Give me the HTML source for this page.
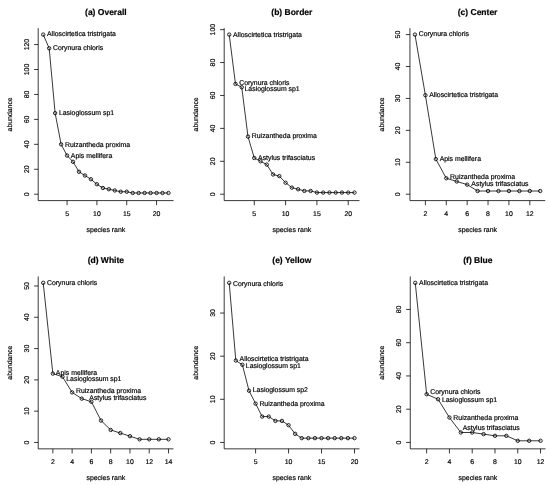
<!DOCTYPE html>
<html><head><meta charset="utf-8"><title>Rank abundance</title>
<style>html,body{margin:0;padding:0;background:#fff}svg{display:block}text{text-rendering:geometricPrecision;stroke:#000;stroke-width:0.18px;font-family:"Liberation Sans",sans-serif;fill:#000}</style></head>
<body>
<svg width="550" height="485" viewBox="0 0 550 485">
<rect width="550" height="485" fill="#fff"/>
<g>
<text x="105.85" y="14.9" font-size="8.5" font-weight="bold" text-anchor="middle">(a) Overall</text>
<path d="M38.2 28.2V200.6H173.5" fill="none" stroke="#000" stroke-width="0.78"/>
<path d="M67.07 200.6v4.6M96.9 200.6v4.6M126.73 200.6v4.6M156.56 200.6v4.6M38.2 194.21h-4.1M38.2 169.27h-4.1M38.2 144.33h-4.1M38.2 119.39h-4.1M38.2 94.45h-4.1M38.2 69.5h-4.1M38.2 44.56h-4.1" fill="none" stroke="#000" stroke-width="0.78"/>
<text x="67.07" y="215.8" font-size="6.9" text-anchor="middle">5</text>
<text x="96.9" y="215.8" font-size="6.9" text-anchor="middle">10</text>
<text x="126.73" y="215.8" font-size="6.9" text-anchor="middle">15</text>
<text x="156.56" y="215.8" font-size="6.9" text-anchor="middle">20</text>
<text transform="translate(28.65 194.21) rotate(-90)" font-size="6.9" text-anchor="middle">0</text>
<text transform="translate(28.65 169.27) rotate(-90)" font-size="6.9" text-anchor="middle">20</text>
<text transform="translate(28.65 144.33) rotate(-90)" font-size="6.9" text-anchor="middle">40</text>
<text transform="translate(28.65 119.39) rotate(-90)" font-size="6.9" text-anchor="middle">60</text>
<text transform="translate(28.65 94.45) rotate(-90)" font-size="6.9" text-anchor="middle">80</text>
<text transform="translate(28.65 69.5) rotate(-90)" font-size="6.9" text-anchor="middle">100</text>
<text transform="translate(28.65 44.56) rotate(-90)" font-size="6.9" text-anchor="middle">120</text>
<text x="105.85" y="231.7" font-size="6.9" text-anchor="middle">species rank</text>
<text transform="translate(11.9 114.4) rotate(-90)" font-size="6.9" text-anchor="middle">abundance</text>
<polyline points="43.21,34.59 49.18,48.3 55.14,113.15 61.11,144.33 67.07,155.55 73.04,161.79 79,171.77 84.97,175.51 90.94,179.25 96.9,184.24 102.87,187.98 108.83,189.23 114.8,190.47 120.76,191.72 126.73,191.72 132.7,192.97 138.66,192.97 144.63,192.97 150.59,192.97 156.56,192.97 162.52,192.97 168.49,192.97" fill="none" stroke="#000" stroke-width="0.78" stroke-linejoin="round"/>
<circle cx="43.21" cy="34.59" r="1.7" fill="none" stroke="#000" stroke-width="0.85"/>
<circle cx="49.18" cy="48.3" r="1.7" fill="none" stroke="#000" stroke-width="0.85"/>
<circle cx="55.14" cy="113.15" r="1.7" fill="none" stroke="#000" stroke-width="0.85"/>
<circle cx="61.11" cy="144.33" r="1.7" fill="none" stroke="#000" stroke-width="0.85"/>
<circle cx="67.07" cy="155.55" r="1.7" fill="none" stroke="#000" stroke-width="0.85"/>
<circle cx="73.04" cy="161.79" r="1.7" fill="none" stroke="#000" stroke-width="0.85"/>
<circle cx="79" cy="171.77" r="1.7" fill="none" stroke="#000" stroke-width="0.85"/>
<circle cx="84.97" cy="175.51" r="1.7" fill="none" stroke="#000" stroke-width="0.85"/>
<circle cx="90.94" cy="179.25" r="1.7" fill="none" stroke="#000" stroke-width="0.85"/>
<circle cx="96.9" cy="184.24" r="1.7" fill="none" stroke="#000" stroke-width="0.85"/>
<circle cx="102.87" cy="187.98" r="1.7" fill="none" stroke="#000" stroke-width="0.85"/>
<circle cx="108.83" cy="189.23" r="1.7" fill="none" stroke="#000" stroke-width="0.85"/>
<circle cx="114.8" cy="190.47" r="1.7" fill="none" stroke="#000" stroke-width="0.85"/>
<circle cx="120.76" cy="191.72" r="1.7" fill="none" stroke="#000" stroke-width="0.85"/>
<circle cx="126.73" cy="191.72" r="1.7" fill="none" stroke="#000" stroke-width="0.85"/>
<circle cx="132.7" cy="192.97" r="1.7" fill="none" stroke="#000" stroke-width="0.85"/>
<circle cx="138.66" cy="192.97" r="1.7" fill="none" stroke="#000" stroke-width="0.85"/>
<circle cx="144.63" cy="192.97" r="1.7" fill="none" stroke="#000" stroke-width="0.85"/>
<circle cx="150.59" cy="192.97" r="1.7" fill="none" stroke="#000" stroke-width="0.85"/>
<circle cx="156.56" cy="192.97" r="1.7" fill="none" stroke="#000" stroke-width="0.85"/>
<circle cx="162.52" cy="192.97" r="1.7" fill="none" stroke="#000" stroke-width="0.85"/>
<circle cx="168.49" cy="192.97" r="1.7" fill="none" stroke="#000" stroke-width="0.85"/>
<text x="47.01" y="36.39" font-size="6.9">Alloscirtetica tristrigata</text>
<text x="52.98" y="50.1" font-size="6.9">Corynura chloris</text>
<text x="58.94" y="115.35" font-size="6.9">Lasioglossum sp1</text>
<text x="64.91" y="146.53" font-size="6.9">Ruizantheda proxima</text>
<text x="70.87" y="157.75" font-size="6.9">Apis mellifera</text>
</g>
<g>
<text x="291.85" y="14.9" font-size="8.5" font-weight="bold" text-anchor="middle">(b) Border</text>
<path d="M224.2 28.2V200.6H359.5" fill="none" stroke="#000" stroke-width="0.78"/>
<path d="M254.27 200.6v4.6M285.59 200.6v4.6M316.91 200.6v4.6M348.23 200.6v4.6M224.2 194.21h-4.1M224.2 161.3h-4.1M224.2 128.39h-4.1M224.2 95.47h-4.1M224.2 62.56h-4.1M224.2 29.65h-4.1" fill="none" stroke="#000" stroke-width="0.78"/>
<text x="254.27" y="215.8" font-size="6.9" text-anchor="middle">5</text>
<text x="285.59" y="215.8" font-size="6.9" text-anchor="middle">10</text>
<text x="316.91" y="215.8" font-size="6.9" text-anchor="middle">15</text>
<text x="348.23" y="215.8" font-size="6.9" text-anchor="middle">20</text>
<text transform="translate(214.65 194.21) rotate(-90)" font-size="6.9" text-anchor="middle">0</text>
<text transform="translate(214.65 161.3) rotate(-90)" font-size="6.9" text-anchor="middle">20</text>
<text transform="translate(214.65 128.39) rotate(-90)" font-size="6.9" text-anchor="middle">40</text>
<text transform="translate(214.65 95.47) rotate(-90)" font-size="6.9" text-anchor="middle">60</text>
<text transform="translate(214.65 62.56) rotate(-90)" font-size="6.9" text-anchor="middle">80</text>
<text transform="translate(214.65 29.65) rotate(-90)" font-size="6.9" text-anchor="middle">100</text>
<text x="291.85" y="231.7" font-size="6.9" text-anchor="middle">species rank</text>
<text transform="translate(197.9 114.4) rotate(-90)" font-size="6.9" text-anchor="middle">abundance</text>
<polyline points="229.21,34.59 235.47,83.96 241.74,87.25 248,136.62 254.27,158.01 260.53,161.3 266.79,164.59 273.06,174.47 279.32,176.11 285.59,182.7 291.85,187.63 298.11,189.28 304.38,190.92 310.64,190.92 316.91,192.57 323.17,192.57 329.43,192.57 335.7,192.57 341.96,192.57 348.23,192.57 354.49,192.57" fill="none" stroke="#000" stroke-width="0.78" stroke-linejoin="round"/>
<circle cx="229.21" cy="34.59" r="1.7" fill="none" stroke="#000" stroke-width="0.85"/>
<circle cx="235.47" cy="83.96" r="1.7" fill="none" stroke="#000" stroke-width="0.85"/>
<circle cx="241.74" cy="87.25" r="1.7" fill="none" stroke="#000" stroke-width="0.85"/>
<circle cx="248" cy="136.62" r="1.7" fill="none" stroke="#000" stroke-width="0.85"/>
<circle cx="254.27" cy="158.01" r="1.7" fill="none" stroke="#000" stroke-width="0.85"/>
<circle cx="260.53" cy="161.3" r="1.7" fill="none" stroke="#000" stroke-width="0.85"/>
<circle cx="266.79" cy="164.59" r="1.7" fill="none" stroke="#000" stroke-width="0.85"/>
<circle cx="273.06" cy="174.47" r="1.7" fill="none" stroke="#000" stroke-width="0.85"/>
<circle cx="279.32" cy="176.11" r="1.7" fill="none" stroke="#000" stroke-width="0.85"/>
<circle cx="285.59" cy="182.7" r="1.7" fill="none" stroke="#000" stroke-width="0.85"/>
<circle cx="291.85" cy="187.63" r="1.7" fill="none" stroke="#000" stroke-width="0.85"/>
<circle cx="298.11" cy="189.28" r="1.7" fill="none" stroke="#000" stroke-width="0.85"/>
<circle cx="304.38" cy="190.92" r="1.7" fill="none" stroke="#000" stroke-width="0.85"/>
<circle cx="310.64" cy="190.92" r="1.7" fill="none" stroke="#000" stroke-width="0.85"/>
<circle cx="316.91" cy="192.57" r="1.7" fill="none" stroke="#000" stroke-width="0.85"/>
<circle cx="323.17" cy="192.57" r="1.7" fill="none" stroke="#000" stroke-width="0.85"/>
<circle cx="329.43" cy="192.57" r="1.7" fill="none" stroke="#000" stroke-width="0.85"/>
<circle cx="335.7" cy="192.57" r="1.7" fill="none" stroke="#000" stroke-width="0.85"/>
<circle cx="341.96" cy="192.57" r="1.7" fill="none" stroke="#000" stroke-width="0.85"/>
<circle cx="348.23" cy="192.57" r="1.7" fill="none" stroke="#000" stroke-width="0.85"/>
<circle cx="354.49" cy="192.57" r="1.7" fill="none" stroke="#000" stroke-width="0.85"/>
<text x="233.01" y="36.59" font-size="6.9">Alloscirtetica tristrigata</text>
<text x="239.28" y="84.86" font-size="6.9">Corynura chloris</text>
<text x="244.54" y="91.25" font-size="6.9">Lasioglossum sp1</text>
<text x="251.8" y="138.22" font-size="6.9">Ruizantheda proxima</text>
<text x="258.07" y="160.21" font-size="6.9">Astylus trifasciatus</text>
</g>
<g>
<text x="477.6" y="14.9" font-size="8.5" font-weight="bold" text-anchor="middle">(c) Center</text>
<path d="M409.95 28.2V200.6H545.25" fill="none" stroke="#000" stroke-width="0.78"/>
<path d="M425.4 200.6v4.6M446.28 200.6v4.6M467.16 200.6v4.6M488.04 200.6v4.6M508.92 200.6v4.6M529.8 200.6v4.6M409.95 194.21h-4.1M409.95 162.29h-4.1M409.95 130.36h-4.1M409.95 98.44h-4.1M409.95 66.51h-4.1M409.95 34.59h-4.1" fill="none" stroke="#000" stroke-width="0.78"/>
<text x="425.4" y="215.8" font-size="6.9" text-anchor="middle">2</text>
<text x="446.28" y="215.8" font-size="6.9" text-anchor="middle">4</text>
<text x="467.16" y="215.8" font-size="6.9" text-anchor="middle">6</text>
<text x="488.04" y="215.8" font-size="6.9" text-anchor="middle">8</text>
<text x="508.92" y="215.8" font-size="6.9" text-anchor="middle">10</text>
<text x="529.8" y="215.8" font-size="6.9" text-anchor="middle">12</text>
<text transform="translate(400.4 194.21) rotate(-90)" font-size="6.9" text-anchor="middle">0</text>
<text transform="translate(400.4 162.29) rotate(-90)" font-size="6.9" text-anchor="middle">10</text>
<text transform="translate(400.4 130.36) rotate(-90)" font-size="6.9" text-anchor="middle">20</text>
<text transform="translate(400.4 98.44) rotate(-90)" font-size="6.9" text-anchor="middle">30</text>
<text transform="translate(400.4 66.51) rotate(-90)" font-size="6.9" text-anchor="middle">40</text>
<text transform="translate(400.4 34.59) rotate(-90)" font-size="6.9" text-anchor="middle">50</text>
<text x="477.6" y="231.7" font-size="6.9" text-anchor="middle">species rank</text>
<text transform="translate(383.65 114.4) rotate(-90)" font-size="6.9" text-anchor="middle">abundance</text>
<polyline points="414.96,34.59 425.4,95.24 435.84,159.1 446.28,178.25 456.72,181.44 467.16,184.64 477.6,191.02 488.04,191.02 498.48,191.02 508.92,191.02 519.36,191.02 529.8,191.02 540.24,191.02" fill="none" stroke="#000" stroke-width="0.78" stroke-linejoin="round"/>
<circle cx="414.96" cy="34.59" r="1.7" fill="none" stroke="#000" stroke-width="0.85"/>
<circle cx="425.4" cy="95.24" r="1.7" fill="none" stroke="#000" stroke-width="0.85"/>
<circle cx="435.84" cy="159.1" r="1.7" fill="none" stroke="#000" stroke-width="0.85"/>
<circle cx="446.28" cy="178.25" r="1.7" fill="none" stroke="#000" stroke-width="0.85"/>
<circle cx="456.72" cy="181.44" r="1.7" fill="none" stroke="#000" stroke-width="0.85"/>
<circle cx="467.16" cy="184.64" r="1.7" fill="none" stroke="#000" stroke-width="0.85"/>
<circle cx="477.6" cy="191.02" r="1.7" fill="none" stroke="#000" stroke-width="0.85"/>
<circle cx="488.04" cy="191.02" r="1.7" fill="none" stroke="#000" stroke-width="0.85"/>
<circle cx="498.48" cy="191.02" r="1.7" fill="none" stroke="#000" stroke-width="0.85"/>
<circle cx="508.92" cy="191.02" r="1.7" fill="none" stroke="#000" stroke-width="0.85"/>
<circle cx="519.36" cy="191.02" r="1.7" fill="none" stroke="#000" stroke-width="0.85"/>
<circle cx="529.8" cy="191.02" r="1.7" fill="none" stroke="#000" stroke-width="0.85"/>
<circle cx="540.24" cy="191.02" r="1.7" fill="none" stroke="#000" stroke-width="0.85"/>
<text x="418.76" y="36.14" font-size="6.9">Corynura chloris</text>
<text x="429.2" y="97.44" font-size="6.9">Alloscirtetica tristrigata</text>
<text x="439.64" y="161.3" font-size="6.9">Apis mellifera</text>
<text x="450.08" y="178.55" font-size="6.9">Ruizantheda proxima</text>
<text x="471.36" y="186.19" font-size="6.9">Astylus trifasciatus</text>
</g>
<g>
<text x="105.85" y="262.65" font-size="8.5" font-weight="bold" text-anchor="middle">(d) White</text>
<path d="M38.2 276.45V448.85H173.5" fill="none" stroke="#000" stroke-width="0.78"/>
<path d="M52.85 448.85v4.6M72.12 448.85v4.6M91.39 448.85v4.6M110.67 448.85v4.6M129.94 448.85v4.6M149.22 448.85v4.6M168.49 448.85v4.6M38.2 442.46h-4.1M38.2 411.16h-4.1M38.2 379.86h-4.1M38.2 348.57h-4.1M38.2 317.27h-4.1M38.2 285.97h-4.1" fill="none" stroke="#000" stroke-width="0.78"/>
<text x="52.85" y="464.05" font-size="6.9" text-anchor="middle">2</text>
<text x="72.12" y="464.05" font-size="6.9" text-anchor="middle">4</text>
<text x="91.39" y="464.05" font-size="6.9" text-anchor="middle">6</text>
<text x="110.67" y="464.05" font-size="6.9" text-anchor="middle">8</text>
<text x="129.94" y="464.05" font-size="6.9" text-anchor="middle">10</text>
<text x="149.22" y="464.05" font-size="6.9" text-anchor="middle">12</text>
<text x="168.49" y="464.05" font-size="6.9" text-anchor="middle">14</text>
<text transform="translate(28.65 442.46) rotate(-90)" font-size="6.9" text-anchor="middle">0</text>
<text transform="translate(28.65 411.16) rotate(-90)" font-size="6.9" text-anchor="middle">10</text>
<text transform="translate(28.65 379.86) rotate(-90)" font-size="6.9" text-anchor="middle">20</text>
<text transform="translate(28.65 348.57) rotate(-90)" font-size="6.9" text-anchor="middle">30</text>
<text transform="translate(28.65 317.27) rotate(-90)" font-size="6.9" text-anchor="middle">40</text>
<text transform="translate(28.65 285.97) rotate(-90)" font-size="6.9" text-anchor="middle">50</text>
<text x="105.85" y="479.95" font-size="6.9" text-anchor="middle">species rank</text>
<text transform="translate(11.9 362.65) rotate(-90)" font-size="6.9" text-anchor="middle">abundance</text>
<polyline points="43.21,282.84 52.85,373.6 62.48,376.73 72.12,392.38 81.76,398.64 91.39,401.77 101.03,420.55 110.67,429.94 120.31,433.07 129.94,436.2 139.58,439.33 149.22,439.33 158.85,439.33 168.49,439.33" fill="none" stroke="#000" stroke-width="0.78" stroke-linejoin="round"/>
<circle cx="43.21" cy="282.84" r="1.7" fill="none" stroke="#000" stroke-width="0.85"/>
<circle cx="52.85" cy="373.6" r="1.7" fill="none" stroke="#000" stroke-width="0.85"/>
<circle cx="62.48" cy="376.73" r="1.7" fill="none" stroke="#000" stroke-width="0.85"/>
<circle cx="72.12" cy="392.38" r="1.7" fill="none" stroke="#000" stroke-width="0.85"/>
<circle cx="81.76" cy="398.64" r="1.7" fill="none" stroke="#000" stroke-width="0.85"/>
<circle cx="91.39" cy="401.77" r="1.7" fill="none" stroke="#000" stroke-width="0.85"/>
<circle cx="101.03" cy="420.55" r="1.7" fill="none" stroke="#000" stroke-width="0.85"/>
<circle cx="110.67" cy="429.94" r="1.7" fill="none" stroke="#000" stroke-width="0.85"/>
<circle cx="120.31" cy="433.07" r="1.7" fill="none" stroke="#000" stroke-width="0.85"/>
<circle cx="129.94" cy="436.2" r="1.7" fill="none" stroke="#000" stroke-width="0.85"/>
<circle cx="139.58" cy="439.33" r="1.7" fill="none" stroke="#000" stroke-width="0.85"/>
<circle cx="149.22" cy="439.33" r="1.7" fill="none" stroke="#000" stroke-width="0.85"/>
<circle cx="158.85" cy="439.33" r="1.7" fill="none" stroke="#000" stroke-width="0.85"/>
<circle cx="168.49" cy="439.33" r="1.7" fill="none" stroke="#000" stroke-width="0.85"/>
<text x="47.01" y="284.68" font-size="6.9">Corynura chloris</text>
<text x="55.85" y="374.5" font-size="6.9">Apis mellifera</text>
<text x="66.28" y="380.93" font-size="6.9">Lasioglossum sp1</text>
<text x="75.92" y="393.08" font-size="6.9">Ruizantheda proxima</text>
<text x="89.34" y="400.27" font-size="6.9">Astylus trifasciatus</text>
</g>
<g>
<text x="291.85" y="262.65" font-size="8.5" font-weight="bold" text-anchor="middle">(e) Yellow</text>
<path d="M224.2 276.45V448.85H359.5" fill="none" stroke="#000" stroke-width="0.78"/>
<path d="M255.59 448.85v4.6M288.55 448.85v4.6M321.52 448.85v4.6M354.49 448.85v4.6M224.2 442.46h-4.1M224.2 399.32h-4.1M224.2 356.18h-4.1M224.2 313.04h-4.1" fill="none" stroke="#000" stroke-width="0.78"/>
<text x="255.59" y="464.05" font-size="6.9" text-anchor="middle">5</text>
<text x="288.55" y="464.05" font-size="6.9" text-anchor="middle">10</text>
<text x="321.52" y="464.05" font-size="6.9" text-anchor="middle">15</text>
<text x="354.49" y="464.05" font-size="6.9" text-anchor="middle">20</text>
<text transform="translate(214.65 442.46) rotate(-90)" font-size="6.9" text-anchor="middle">0</text>
<text transform="translate(214.65 399.32) rotate(-90)" font-size="6.9" text-anchor="middle">10</text>
<text transform="translate(214.65 356.18) rotate(-90)" font-size="6.9" text-anchor="middle">20</text>
<text transform="translate(214.65 313.04) rotate(-90)" font-size="6.9" text-anchor="middle">30</text>
<text x="291.85" y="479.95" font-size="6.9" text-anchor="middle">species rank</text>
<text transform="translate(197.9 362.65) rotate(-90)" font-size="6.9" text-anchor="middle">abundance</text>
<polyline points="229.21,282.84 235.8,360.49 242.4,364.81 248.99,390.69 255.59,403.64 262.18,416.58 268.77,416.58 275.37,420.89 281.96,420.89 288.55,425.21 295.15,433.84 301.74,438.15 308.33,438.15 314.93,438.15 321.52,438.15 328.11,438.15 334.71,438.15 341.3,438.15 347.9,438.15 354.49,438.15" fill="none" stroke="#000" stroke-width="0.78" stroke-linejoin="round"/>
<circle cx="229.21" cy="282.84" r="1.7" fill="none" stroke="#000" stroke-width="0.85"/>
<circle cx="235.8" cy="360.49" r="1.7" fill="none" stroke="#000" stroke-width="0.85"/>
<circle cx="242.4" cy="364.81" r="1.7" fill="none" stroke="#000" stroke-width="0.85"/>
<circle cx="248.99" cy="390.69" r="1.7" fill="none" stroke="#000" stroke-width="0.85"/>
<circle cx="255.59" cy="403.64" r="1.7" fill="none" stroke="#000" stroke-width="0.85"/>
<circle cx="262.18" cy="416.58" r="1.7" fill="none" stroke="#000" stroke-width="0.85"/>
<circle cx="268.77" cy="416.58" r="1.7" fill="none" stroke="#000" stroke-width="0.85"/>
<circle cx="275.37" cy="420.89" r="1.7" fill="none" stroke="#000" stroke-width="0.85"/>
<circle cx="281.96" cy="420.89" r="1.7" fill="none" stroke="#000" stroke-width="0.85"/>
<circle cx="288.55" cy="425.21" r="1.7" fill="none" stroke="#000" stroke-width="0.85"/>
<circle cx="295.15" cy="433.84" r="1.7" fill="none" stroke="#000" stroke-width="0.85"/>
<circle cx="301.74" cy="438.15" r="1.7" fill="none" stroke="#000" stroke-width="0.85"/>
<circle cx="308.33" cy="438.15" r="1.7" fill="none" stroke="#000" stroke-width="0.85"/>
<circle cx="314.93" cy="438.15" r="1.7" fill="none" stroke="#000" stroke-width="0.85"/>
<circle cx="321.52" cy="438.15" r="1.7" fill="none" stroke="#000" stroke-width="0.85"/>
<circle cx="328.11" cy="438.15" r="1.7" fill="none" stroke="#000" stroke-width="0.85"/>
<circle cx="334.71" cy="438.15" r="1.7" fill="none" stroke="#000" stroke-width="0.85"/>
<circle cx="341.3" cy="438.15" r="1.7" fill="none" stroke="#000" stroke-width="0.85"/>
<circle cx="347.9" cy="438.15" r="1.7" fill="none" stroke="#000" stroke-width="0.85"/>
<circle cx="354.49" cy="438.15" r="1.7" fill="none" stroke="#000" stroke-width="0.85"/>
<text x="233.01" y="285.74" font-size="6.9">Corynura chloris</text>
<text x="239.6" y="361.19" font-size="6.9">Alloscirtetica tristrigata</text>
<text x="245.8" y="368.11" font-size="6.9">Lasioglossum sp1</text>
<text x="252.79" y="392.29" font-size="6.9">Lasioglossum sp2</text>
<text x="259.39" y="405.64" font-size="6.9">Ruizantheda proxima</text>
</g>
<g>
<text x="477.9" y="262.65" font-size="8.5" font-weight="bold" text-anchor="middle">(f) Blue</text>
<path d="M410.25 276.45V448.85H545.55" fill="none" stroke="#000" stroke-width="0.78"/>
<path d="M426.65 448.85v4.6M449.43 448.85v4.6M472.21 448.85v4.6M494.98 448.85v4.6M517.76 448.85v4.6M540.54 448.85v4.6M410.25 442.46h-4.1M410.25 409.21h-4.1M410.25 375.95h-4.1M410.25 342.7h-4.1M410.25 309.44h-4.1" fill="none" stroke="#000" stroke-width="0.78"/>
<text x="426.65" y="464.05" font-size="6.9" text-anchor="middle">2</text>
<text x="449.43" y="464.05" font-size="6.9" text-anchor="middle">4</text>
<text x="472.21" y="464.05" font-size="6.9" text-anchor="middle">6</text>
<text x="494.98" y="464.05" font-size="6.9" text-anchor="middle">8</text>
<text x="517.76" y="464.05" font-size="6.9" text-anchor="middle">10</text>
<text x="540.54" y="464.05" font-size="6.9" text-anchor="middle">12</text>
<text transform="translate(400.7 442.46) rotate(-90)" font-size="6.9" text-anchor="middle">0</text>
<text transform="translate(400.7 409.21) rotate(-90)" font-size="6.9" text-anchor="middle">20</text>
<text transform="translate(400.7 375.95) rotate(-90)" font-size="6.9" text-anchor="middle">40</text>
<text transform="translate(400.7 342.7) rotate(-90)" font-size="6.9" text-anchor="middle">60</text>
<text transform="translate(400.7 309.44) rotate(-90)" font-size="6.9" text-anchor="middle">80</text>
<text x="477.9" y="479.95" font-size="6.9" text-anchor="middle">species rank</text>
<text transform="translate(383.95 362.65) rotate(-90)" font-size="6.9" text-anchor="middle">abundance</text>
<polyline points="415.26,282.84 426.65,394.24 438.04,399.23 449.43,417.52 460.82,432.49 472.21,432.49 483.59,434.15 494.98,435.81 506.37,435.81 517.76,440.8 529.15,440.8 540.54,440.8" fill="none" stroke="#000" stroke-width="0.78" stroke-linejoin="round"/>
<circle cx="415.26" cy="282.84" r="1.7" fill="none" stroke="#000" stroke-width="0.85"/>
<circle cx="426.65" cy="394.24" r="1.7" fill="none" stroke="#000" stroke-width="0.85"/>
<circle cx="438.04" cy="399.23" r="1.7" fill="none" stroke="#000" stroke-width="0.85"/>
<circle cx="449.43" cy="417.52" r="1.7" fill="none" stroke="#000" stroke-width="0.85"/>
<circle cx="460.82" cy="432.49" r="1.7" fill="none" stroke="#000" stroke-width="0.85"/>
<circle cx="472.21" cy="432.49" r="1.7" fill="none" stroke="#000" stroke-width="0.85"/>
<circle cx="483.59" cy="434.15" r="1.7" fill="none" stroke="#000" stroke-width="0.85"/>
<circle cx="494.98" cy="435.81" r="1.7" fill="none" stroke="#000" stroke-width="0.85"/>
<circle cx="506.37" cy="435.81" r="1.7" fill="none" stroke="#000" stroke-width="0.85"/>
<circle cx="517.76" cy="440.8" r="1.7" fill="none" stroke="#000" stroke-width="0.85"/>
<circle cx="529.15" cy="440.8" r="1.7" fill="none" stroke="#000" stroke-width="0.85"/>
<circle cx="540.54" cy="440.8" r="1.7" fill="none" stroke="#000" stroke-width="0.85"/>
<text x="419.06" y="285.04" font-size="6.9">Alloscirtetica tristrigata</text>
<text x="430.25" y="394.14" font-size="6.9">Corynura chloris</text>
<text x="441.94" y="402.08" font-size="6.9">Lasioglossum sp1</text>
<text x="453.33" y="419.72" font-size="6.9">Ruizantheda proxima</text>
<text x="462.72" y="430.39" font-size="6.9">Astylus trifasciatus</text>
</g>
</svg>
</body></html>
